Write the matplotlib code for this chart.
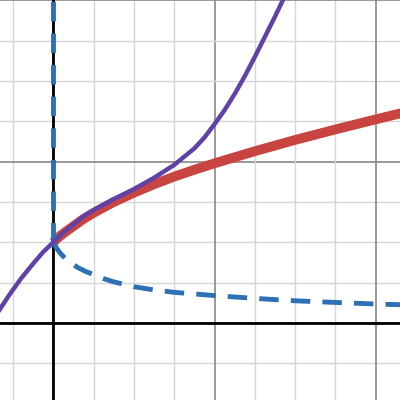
import matplotlib
matplotlib.use("Agg")
import matplotlib.pyplot as plt
import numpy as np

# points
red_x = [0, 0.1, 0.25, 0.5, 0.75, 1, 1.5, 2, 2.5, 3, 3.5, 4, 5, 6, 7, 8, 8.7]
red_y = [2, 2.1, 2.22, 2.4, 2.58, 2.73, 3.0, 3.23, 3.44, 3.63, 3.8, 3.96, 4.26, 4.54, 4.8, 5.05, 5.22]

purple_x = [-1.35, -1.1, -0.8, -0.5, -0.25, 0, 0.25, 0.5, 0.75, 1, 1.5, 2, 2.5, 3, 3.5,
            3.75, 4, 4.25, 4.5, 4.75, 5, 5.25, 5.5, 5.75, 6]
purple_y = [0.3, 0.68, 1.1, 1.47, 1.76, 2, 2.24, 2.45, 2.64, 2.8, 3.07, 3.32, 3.6, 3.92, 4.33,
            4.6, 4.93, 5.28, 5.68, 6.12, 6.6, 7.1, 7.6, 8.12, 8.65]

blue_x = [0, 0.08, 0.15, 0.25, 0.35, 0.5, 0.6, 0.8, 1, 1.25, 1.5, 2, 2.5, 3, 4, 5, 6, 7, 8, 8.7]
blue_y = [2, 1.86, 1.76, 1.65, 1.56, 1.45, 1.38, 1.28, 1.2, 1.1, 1.02, 0.9, 0.82, 0.76, 0.68, 0.61, 0.55, 0.51, 0.47, 0.45]

fig = plt.figure(figsize=(4, 4), dpi=100)
ax = fig.add_axes([0, 0, 1, 1])
ax.set_xlim(-1.32, 8.6)
ax.set_ylim(-1.91, 8.01)

for v in np.arange(-1, 9):
    c, w = ("#888888", 1.2) if v % 4 == 0 else ("#d6d6d6", 1.0)
    ax.axvline(v, color=c, lw=w, zorder=0)
    ax.axhline(v, color=c, lw=w, zorder=0)
ax.axhline(0, color="black", lw=2, zorder=1)
ax.axvline(0, color="black", lw=2, zorder=1)

ax.plot(red_x, red_y, color="#c74440", lw=7, solid_capstyle="butt", zorder=2)
ax.plot([0, 0], [2, 8.2], color="#2d70b3", lw=3.5, ls=(0, (4, 2.5)), zorder=3)
ax.plot(blue_x, blue_y, color="#2d70b3", lw=3.5, ls=(0, (4, 2.5)), zorder=3)
ax.plot(purple_x, purple_y, color="#6042a6", lw=3.2, zorder=4)

ax.set_xticks([])
ax.set_yticks([])
for s in ax.spines.values():
    s.set_visible(False)
fig.savefig("out.png", dpi=100)
